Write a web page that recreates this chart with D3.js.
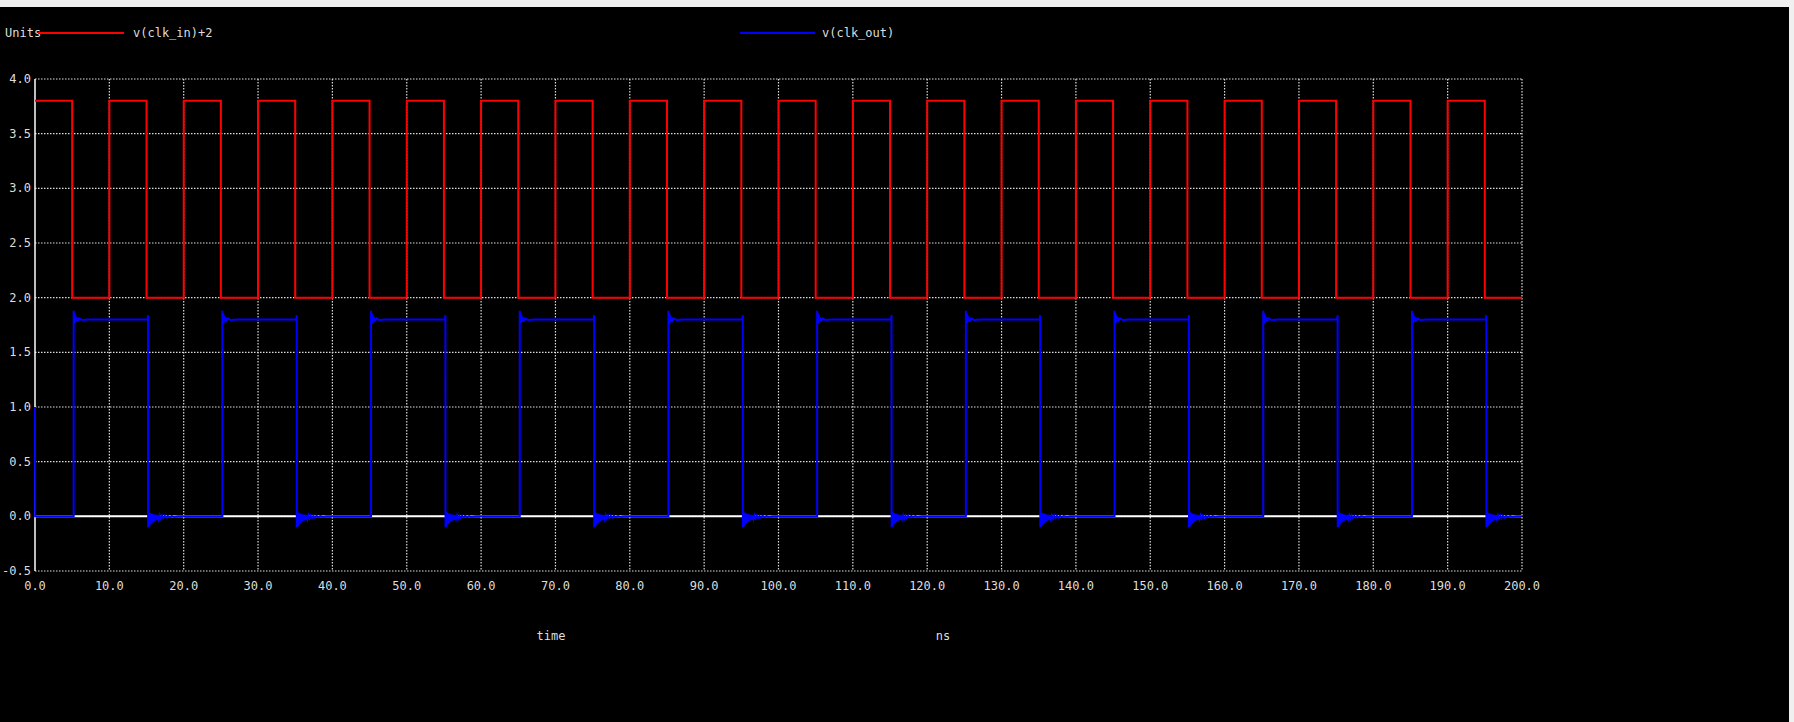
<!DOCTYPE html>
<html><head><meta charset="utf-8">
<script src="https://cdn.jsdelivr.net/npm/d3@7"></script>
<style>body{margin:0;background:#000;overflow:hidden}text{font-family:"DejaVu Sans Mono",monospace;font-size:12px;fill:#ddd}</style>
</head><body><svg id="c" width="1794" height="722"></svg>
<script>
const xTicks=[0,10,20,30,40,50,60,70,80,90,100,110,120,130,140,150,160,170,180,190,200];
const yTicks=[-0.5,0,0.5,1.0,1.5,2.0,2.5,3.0,3.5,4.0];
const clkInHigh=3.8, clkInLow=2.0;
const clkInEdges=[0,5,10,15,20,25,30,35,40,45,50,55,60,65,70,75,80,85,90,95,100,105,110,115,120,125,130,135,140,145,150,155,160,165,170,175,180,185,190,195,200];
const outRise=[5.2,25.2,45.2,65.2,85.2,105.2,125.2,145.2,165.2,185.2];
const outFall=[15.2,35.2,55.2,75.2,95.2,115.2,135.2,155.2,175.2,195.2];
const outHigh=1.8, outLow=0.0, outStart=1.0;
// ringing after falling edge: [dt ns, value]
const ringFall=[[0,-0.1],[0.04,0.04],[0.08,-0.095],[0.12,0.035],[0.16,-0.085],[0.2,0.03],[0.25,-0.075],[0.3,0.028],[0.35,-0.068],[0.41,0.025],[0.47,-0.06],[0.54,0.022],[0.61,-0.052],[0.69,0.019],[0.77,-0.045],[0.86,0.016],[0.95,-0.038],[1.05,0.013],[1.16,-0.031],[1.28,0.011],[1.41,-0.025],[1.55,0.009],[1.7,-0.02],[1.86,0.007],[2.03,-0.015],[2.22,0.005],[2.42,-0.011],[2.64,0.004],[2.88,-0.007],[3.15,0.002],[3.5,-0.004],[4.0,0]];
const ringRise=[[0,1.88],[0.05,1.76],[0.1,1.86],[0.16,1.77],[0.23,1.84],[0.31,1.78],[0.4,1.82],[0.55,1.79],[0.75,1.81],[1.1,1.795],[2.0,1.8]];

const svg=d3.select("#c");
svg.append("rect").attr("width",1794).attr("height",7).attr("fill","#f0f0f0");
svg.append("rect").attr("x",1789).attr("width",5).attr("height",722).attr("fill","#f0f0f0");
const x=d3.scaleLinear().domain([0,200]).range([35,1522]);
const y=d3.scaleLinear().domain([-0.5,4.0]).range([571,79]);

const g=svg.append("g");
g.selectAll(".vg").data(xTicks.slice(1)).join("line").attr("x1",d=>x(d)).attr("x2",d=>x(d)).attr("y1",y(4)).attr("y2",y(-0.5))
 .attr("stroke","#ddd").attr("stroke-width",1.2).attr("stroke-dasharray","1.5,1.5");
g.selectAll(".hg").data(yTicks).join("line").attr("x1",x(0)).attr("x2",x(200)).attr("y1",d=>y(d)).attr("y2",d=>y(d))
 .attr("stroke","#ddd").attr("stroke-width",1.2).attr("stroke-dasharray","1.5,1.5");
svg.append("line").attr("x1",x(0)).attr("x2",x(0)).attr("y1",y(4)).attr("y2",y(-0.5)).attr("stroke","#fff").attr("stroke-width",1.5);
svg.append("line").attr("x1",x(0)).attr("x2",x(200)).attr("y1",y(0)).attr("y2",y(0)).attr("stroke","#fff").attr("stroke-width",2);

svg.selectAll(".xl").data(xTicks).join("text").attr("x",d=>x(d)).attr("y",590).attr("text-anchor","middle").text(d=>d.toFixed(1));
svg.selectAll(".yl").data(yTicks).join("text").attr("x",31).attr("y",d=>y(d)+4).attr("text-anchor","end").text(d=>d.toFixed(1));
svg.append("text").attr("x",551).attr("y",640).attr("text-anchor","middle").text("time");
svg.append("text").attr("x",943).attr("y",640).attr("text-anchor","middle").text("ns");

svg.append("text").attr("x",5).attr("y",37).text("Units");
svg.append("line").attr("x1",38).attr("x2",124).attr("y1",33).attr("y2",33).attr("stroke","#f00").attr("stroke-width",2);
svg.append("text").attr("x",133).attr("y",37).text("v(clk_in)+2");
svg.append("line").attr("x1",740).attr("x2",815).attr("y1",33).attr("y2",33).attr("stroke","#00f").attr("stroke-width",2);
svg.append("text").attr("x",822).attr("y",37).text("v(clk_out)");

const redPts=[];
clkInEdges.forEach((t,i)=>{
  const prev = i===0 ? clkInHigh : (i%2===1?clkInHigh:clkInLow);
  const next = i%2===0?clkInHigh:clkInLow;
  if(i>0) redPts.push([t,prev]);
  if(i<clkInEdges.length-1) redPts.push([t,next]); else redPts.push([t,prev]);
});
const line=d3.line().x(d=>x(d[0])).y(d=>y(d[1]));
svg.append("path").attr("d",line(redPts)).attr("fill","none").attr("stroke","#f00").attr("stroke-width",2);

const bluePts=[[0,outStart],[0.02,outLow]];
outRise.forEach((r,i)=>{
  bluePts.push([r,outLow]);
  ringRise.forEach(p=>bluePts.push([r+p[0],p[1]]));
  const f=outFall[i];
  bluePts.push([f-0.05,outHigh],[f,1.84],[f+0.01,outLow]);
  ringFall.forEach(p=>bluePts.push([f+0.02+p[0],p[1]]));
});
bluePts.push([200,outLow]);
svg.append("path").attr("d",line(bluePts)).attr("fill","none").attr("stroke","#00f").attr("stroke-width",2);
</script></body></html>
